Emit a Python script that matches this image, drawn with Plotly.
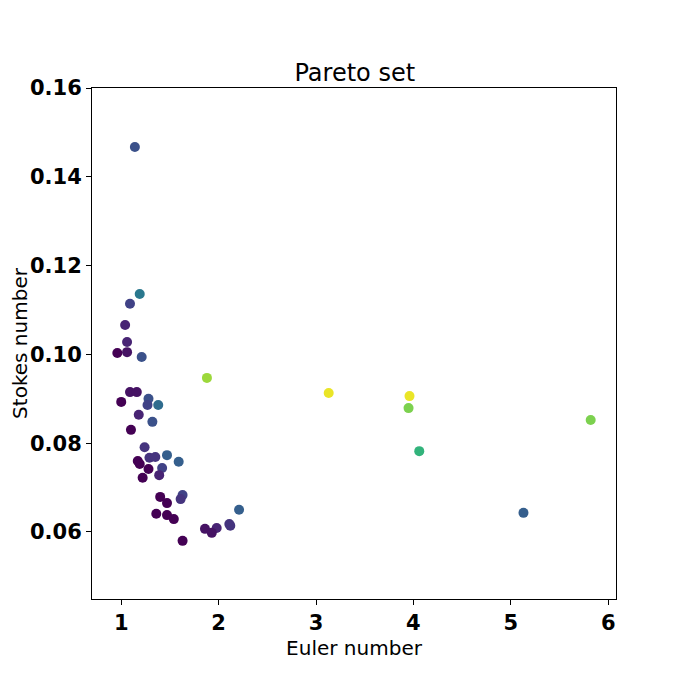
import plotly.graph_objects as go

euler = [1.14,1.19,1.09,1.04,1.06,0.96,1.06,1.21,1.88,1.09,1.16,1.00,1.28,1.27,1.38,1.18,1.32,1.10,1.24,1.17,1.29,1.35,1.47,1.59,1.19,1.28,1.42,1.39,1.22,1.40,1.47,1.63,1.61,1.36,1.47,1.54,2.21,2.11,2.12,1.86,1.98,1.93,1.63,3.13,3.96,3.95,4.06,5.13,5.82]
stokes = [0.1467,0.1136,0.1114,0.1066,0.1028,0.1003,0.1005,0.0994,0.0947,0.0915,0.0915,0.0893,0.0900,0.0886,0.0886,0.0864,0.0848,0.0830,0.0791,0.0760,0.0767,0.0769,0.0773,0.0758,0.0753,0.0742,0.0744,0.0728,0.0722,0.0679,0.0665,0.0683,0.0674,0.0641,0.0638,0.0629,0.0650,0.0618,0.0614,0.0607,0.0609,0.0598,0.0580,0.0913,0.0906,0.0879,0.0782,0.0643,0.0852]
color = [0.25,0.4,0.2,0.1,0.1,0.0,0.05,0.25,0.85,0.05,0.05,0.0,0.25,0.2,0.35,0.1,0.25,0.0,0.15,0.0,0.15,0.15,0.3,0.3,0.0,0.0,0.2,0.1,0.0,0.0,0.0,0.2,0.15,0.0,0.0,0.0,0.3,0.15,0.15,0.05,0.1,0.05,0.0,0.97,0.97,0.8,0.65,0.3,0.8]

fig = go.Figure(go.Scatter(x=euler, y=stokes, mode="markers",
    marker=dict(size=10, color=color, colorscale="Viridis", cmin=0, cmax=1)))
ax = dict(showgrid=False, zeroline=False, showline=True, linecolor="black", linewidth=1,
          mirror=True, ticks="outside", ticklen=5, tickcolor="black", automargin=False,
          tickfont=dict(family="DejaVu Sans", size=21, color="black", weight="bold"))
fig.update_layout(width=676, height=676, plot_bgcolor="white", paper_bgcolor="white",
    margin=dict(l=84, r=68, t=80, b=85), showlegend=False,
    font=dict(family="DejaVu Sans", color="black"),
    title=dict(text="Pareto set", x=0.513, xanchor="center", y=0.905, yanchor="middle",
               font=dict(size=24, color="black")),
    xaxis=dict(ax, range=[0.70, 6.08], tickvals=[1,2,3,4,5,6],
               title=dict(text="Euler number", font=dict(size=20), standoff=6)),
    yaxis=dict(ax, range=[0.0449, 0.16], tickvals=[0.06,0.08,0.10,0.12,0.14,0.16],
               tickformat=".2f", title=dict(text="Stokes number", font=dict(size=20), standoff=6)))
fig.write_html("out.html")
